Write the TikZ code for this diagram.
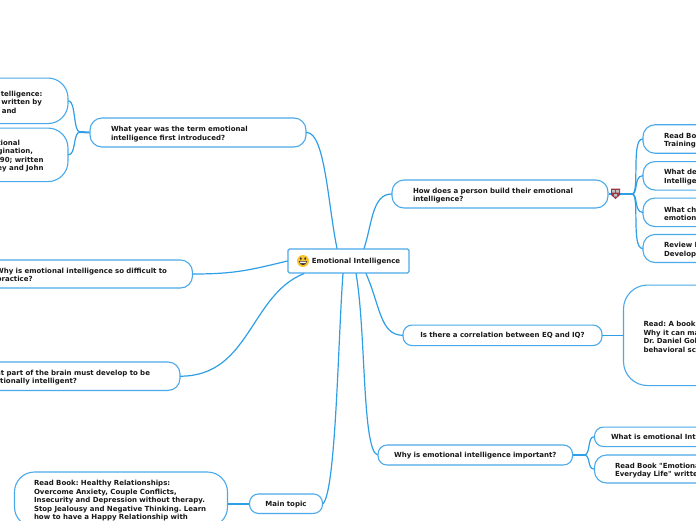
\documentclass[tikz,border=0pt]{standalone}
\usepackage{fontspec}
\newfontfamily\mapfont{DejaVu Sans}
\definecolor{mapblue}{HTML}{2E9FE6}
\definecolor{edgeblue}{HTML}{4AA9EA}
\definecolor{smile}{HTML}{F9C22E}
\definecolor{crest}{HTML}{A5283A}
\newcommand{\gap}[1]{\rule{#1}{0pt}}
\tikzset{
  mapbox/.style={draw=edgeblue,line width=1.1pt,fill=white,inner sep=0pt,align=left,
    font=\mapfont\fontsize{7}{8.5}\selectfont\bfseries\frenchspacing,text=black!90,
    execute at end node={\vspace*{-3pt}}},
  rightbox/.style={mapbox,align=right},
  link/.style={draw=mapblue,line width=1.2pt,line cap=round},
  stem/.style={draw=mapblue,line width=2pt},
}
\begin{document}
\begin{tikzpicture}[x=1pt,y=-1pt]
\useasboundingbox (0,0) rectangle (696,520);
\clip (0,0) rectangle (696,520);
% central topic
\node[mapbox,rounded corners=1.5pt,minimum width=121pt,minimum height=24pt,text width=118pt,align=center] (root) at (348.5,261) {\gap{15pt}Emotional Intelligence};
% left side
\node[mapbox,rounded corners=12pt,minimum width=216pt,minimum height=29pt,text width=174pt] (year) at (198,132.5) {What year was the term emotional\\intelligence first introduced?};
\node[rightbox,rounded corners=20pt,minimum width=168pt,minimum height=45.5pt,text width=118pt] (yearA) at (-16,100.8) {telligence:\gap{0.5pt}\\written by\gap{1pt}\\and\gap{26.5pt}};
\node[rightbox,rounded corners=20pt,minimum width=168pt,minimum height=53.5pt,text width=119pt] (yearB) at (-16,154.8) {tional\gap{23.5pt}\\gination,\gap{10.5pt}\\90; written\\ey and John};
\node[rightbox,rounded corners=12pt,minimum width=292pt,minimum height=28pt,text width=241pt] (hard) at (46.5,274) {Why is emotional intelligence so difficult to\\practice?\gap{134.3pt}};
\node[rightbox,rounded corners=12pt,minimum width=280pt,minimum height=28.5pt,text width=220pt] (brain) at (40,376.2) {at part of the brain must develop to be\\otionally intelligent?\gap{73pt}};
\node[mapbox,rounded corners=9pt,minimum width=73pt,minimum height=19.5pt,text width=70pt,align=center] (main) at (286,503.7) {Main topic};
\node[mapbox,rounded corners=20pt,minimum width=213pt,minimum height=55pt,text width=174pt] (read) at (121,499.5) {Read Book: Healthy Relationships:\\Overcome Anxiety, Couple Conflicts,\\Insecurity and Depression without therapy.\\Stop Jealousy and Negative Thinking. Learn\\how to have a Happy Relationship with};
% right side
\node[mapbox,rounded corners=12pt,minimum width=216pt,minimum height=28pt,text width=174pt] (build) at (500,194) {How does a person build their emotional\\intelligence?};
\node[mapbox,rounded corners=12pt,minimum width=160pt,minimum height=28.5pt,text width=118pt] (buildA) at (723,139) {Read Bo\\Training};
\node[mapbox,rounded corners=12pt,minimum width=160pt,minimum height=28.5pt,text width=118pt] (buildB) at (723,175.8) {What de\\Intellige};
\node[mapbox,rounded corners=12pt,minimum width=160pt,minimum height=28.5pt,text width=118pt] (buildC) at (723,212.3) {What ch\\emotion};
\node[mapbox,rounded corners=12pt,minimum width=160pt,minimum height=28pt,text width=118pt] (buildD) at (723,248.5) {Review I\\Develop};
\node[mapbox,rounded corners=9pt,minimum width=199pt,minimum height=20.5pt,text width=190pt,align=center] (corr) at (502.5,335.3) {Is there a correlation between EQ and IQ?};
\node[mapbox,rounded corners=24pt,minimum width=200pt,minimum height=100.5pt,text width=160pt] (corrA) at (723.5,335.3) {Read: A book\\Why it can ma\\Dr. Daniel Gol\\behavioral sci};
\node[mapbox,rounded corners=9pt,minimum width=194.5pt,minimum height=20pt,text width=190pt,align=center] (why) at (475.3,455) {Why is emotional intelligence important?};
\node[mapbox,rounded corners=9pt,minimum width=160pt,minimum height=19.5pt,text width=127pt] (whyA) at (674.5,436.8) {What is emotional Int};
\node[mapbox,rounded corners=12pt,minimum width=160pt,minimum height=28pt,text width=119pt] (whyB) at (674.5,469) {Read Book "Emotiona\\Everyday Life" writte};
% connectors from the central topic
\draw[link] ([xshift=-11.5pt]root.north) .. controls (328,205) and (325,132) .. (year.east);
\draw[link] (root.west) .. controls (250,270) and (235,274) .. (hard.east);
\draw[link] ([xshift=-44.5pt]root.south) .. controls (250,295) and (250,376) .. (brain.east);
\draw[link] ([xshift=-5.5pt]root.south) .. controls (338,340) and (336,490) .. (main.east);
\draw[link] ([xshift=7.5pt]root.south) .. controls (366,330) and (362,450) .. (why.west);
\draw[link] ([xshift=17.5pt]root.south) .. controls (380,305) and (380,335) .. (corr.west);
\draw[link] ([xshift=15.5pt]root.north) .. controls (372,225) and (372,194) .. (build.west);
% branch forks
\coordinate (forkYear) at (80,132);
\coordinate (forkBuild) at (632,194);
\coordinate (forkWhy) at (584,455);
\draw[stem] (year.west) -- (forkYear);
\draw[link] (forkYear) .. controls (73,132) and (76,101) .. (yearA.east);
\draw[link] (forkYear) .. controls (73,132) and (76,155) .. (yearB.east);
\draw[stem] (main.west) -- (read.east |- main.west);
\draw[stem] (build.east) -- (forkBuild);
\draw[link] (forkBuild) .. controls (640,194) and (631,139) .. (buildA.west);
\draw[link] (forkBuild) .. controls (638,194) and (634,176) .. (buildB.west);
\draw[link] (forkBuild) .. controls (638,194) and (634,212) .. (buildC.west);
\draw[link] (forkBuild) .. controls (640,194) and (631,248) .. (buildD.west);
\draw[link] (corr.east) -- (corrA.west);
\draw[stem] (why.east) -- (forkWhy);
\draw[link] (forkWhy) .. controls (591,455) and (587,437) .. (whyA.west);
\draw[link] (forkWhy) .. controls (591,455) and (587,469) .. (whyB.west);
% smiling face icon
\fill[smile] (303,261) circle (6pt);
\fill[black!80] (300.8,258.6) ellipse (1pt and 1.5pt) (305.2,258.6) ellipse (1pt and 1.5pt);
\fill[black!80] (298.8,261) .. controls (300,266.5) and (306,266.5) .. (307.2,261) -- cycle;
\fill[white] (299.8,261.5) -- (306.2,261.5) -- (305.6,263) -- (300.4,263) -- cycle;
% crest icon
\fill[crest!85!gray] (611,188.5) -- (620,188.5) -- (620,195) -- (615.5,199) -- (611,195) -- cycle;
\fill[black!25] (612,190) rectangle (615,192.6) (616,190) rectangle (619,192.6) (614,194) rectangle (617,196.5);
\end{tikzpicture}
\end{document}
